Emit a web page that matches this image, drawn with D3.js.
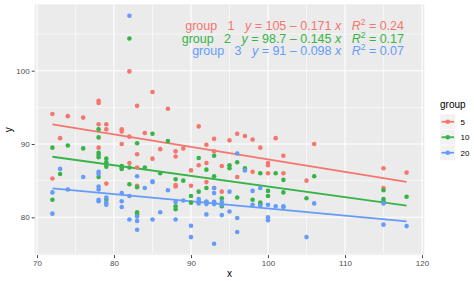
<!DOCTYPE html>
<html><head><meta charset="utf-8">
<script src="https://cdn.jsdelivr.net/npm/d3@7"></script>
<style>
body{margin:0;background:#fff;}
svg{display:block;font-family:"Liberation Sans",Arial,sans-serif;}
text{white-space:pre;}
</style></head>
<body>
<svg id="chart" width="474" height="281"></svg>
<script>
// ---- data ----
const groups = ["5", "10", "20"];
const groupNumbers = ["1", "2", "3"];
const colors = ["#F4766D", "#36B448", "#659BFA"];
const intercepts = [105, 98.7, 91];
const slopes = [-0.171, -0.145, -0.098];
const interceptLabels = ["105", "98.7", "91"];
const slopeLabels = ["0.171", "0.145", "0.098"];
const r2Labels = ["0.24", "0.17", "0.07"];
const xTicks = [70, 80, 90, 100, 110, 120];
const yTicks = [80, 90, 100];
const xMinor = [75, 85, 95, 105, 115];
const yMinor = [75, 85, 95, 105];

// group 5 points [x, y]
const group5 = [
 [72,94.1],[72,85.3],[73,90.8],[74,93.8],[76,93.6],
 [78,95.9],[78,95.6],[78,92.7],[78,89.5],
 [79,92.7],[79,92.0],[79,84.6],
 [81,92.0],[81,91.7],[81,90.0],
 [82,99.9],[82,91.0],[82,87.4],
 [83,95.2],[83,88.6],[83,86.8],[83,84.3],
 [84,91.5],[85,97.1],[85,88.0],[86,89.3],[87,94.8],
 [88,89.0],[88,88.3],[88,84.4],[88,84.2],
 [89,89.4],[90,86.4],[90,84.3],[91,92.4],[91,87.1],
 [92,89.9],[92,87.4],[92,84.8],
 [93,90.7],[93,89.0],[93,84.0],
 [94,87.0],[94,83.5],[95,90.5],[96,91.4],[96,85.5],
 [97,91.1],[98,90.6],[98,86.2],[99,89.5],
 [100,87.4],[100,87.1],[100,86.0],[101,90.8],
 [102,88.4],[102,86.0],[105,85.0],[106,90.0],
 [115,86.7],[115,84.0],[118,86.1]
];
// group 10 points
const group10 = [
 [72,89.5],[72,82.4],[73,85.9],[74,89.8],[76,89.4],
 [78,92.0],[78,90.9],[78,88.8],[78,88.5],[78,88.2],[78,85.5],
 [79,88.0],[79,87.5],[79,87.2],[79,86.9],[79,82.4],
 [81,87.0],[81,86.8],[81,86.6],
 [82,104.4],[82,86.8],[82,84.5],
 [83,90.1],[83,84.1],[83,80.7],[83,80.4],
 [84,86.8],[85,91.4],[86,86.0],[87,90.4],
 [88,85.2],[88,81.5],[88,81.1],[89,85.0],
 [90,82.9],[90,82.0],[91,88.1],[91,83.5],
 [92,86.5],[92,84.0],[92,82.1],
 [93,88.4],[93,85.6],[93,82.0],
 [94,82.6],[94,81.5],[95,87.1],[95,86.7],[96,87.5],[96,82.7],
 [97,86.7],[98,82.4],[99,86.0],[99,82.0],[99,81.8],
 [100,83.6],[100,82.9],[101,86.0],[102,85.1],[102,83.4],
 [105,82.6],[106,85.6],[115,83.7],[115,82.5],[115,82.2],[118,82.8]
];
// group 20 points
const group20 = [
 [72,83.4],[72,80.5],[73,86.6],[74,83.8],[76,85.5],
 [78,86.2],[78,85.9],[78,84.2],[78,83.8],[78,82.4],[78,82.2],
 [79,82.7],[79,82.0],[79,81.7],
 [81,83.3],[81,82.2],[81,81.4],
 [82,107.5],[82,82.9],[82,79.7],
 [83,85.6],[83,80.1],[83,79.5],[83,78.3],
 [84,84.0],[85,84.9],[85,84.8],[85,79.7],[86,80.7],[87,83.7],
 [88,82.1],[88,79.7],[89,82.3],[90,78.85],[90,77.3],
 [91,82.5],[91,82.2],[91,81.9],[92,82.1],[92,81.8],[92,80.4],
 [93,84.0],[93,83.3],[93,82.1],[93,81.8],[93,76.4],
 [94,82.1],[94,81.7],[94,80.3],[95,83.5],[95,80.8],
 [96,88.7],[96,79.9],[96,78.0],[97,86.4],[98,83.6],[98,81.7],
 [99,84.0],[99,81.6],[100,81.7],[100,80.0],[100,79.6],
 [101,81.5],[102,81.5],[102,81.4],[105,77.3],[106,81.9],
 [115,81.9],[115,79.0],[118,78.8]
];
const seriesPoints = [group5, group10, group20];

// ---- layout ----
const svg = d3.select("#chart");
const P = {left: 34.7, right: 424.3, top: 4.3, bottom: 255.1};
const all = seriesPoints.flat();
const xExt = d3.extent(all, d => d[0]);
const yExt = d3.extent(all, d => d[1]);
const xPad = (xExt[1] - xExt[0]) * 0.05, yPad = (yExt[1] - yExt[0]) * 0.05;
const x = d3.scaleLinear().domain([xExt[0] - xPad, xExt[1] + xPad]).range([P.left, P.right]);
const y = d3.scaleLinear().domain([yExt[0] - yPad, yExt[1] + yPad]).range([P.bottom, P.top]);

// panel
svg.append("rect").attr("x", P.left).attr("y", P.top)
  .attr("width", P.right - P.left).attr("height", P.bottom - P.top).attr("fill", "#EBEBEB");

const grid = svg.append("g").attr("stroke", "#fff").attr("fill", "none");
grid.selectAll(".xm").data(xMinor.filter(v => x(v) > P.left && x(v) < P.right)).join("line")
  .attr("x1", d => x(d)).attr("x2", d => x(d)).attr("y1", P.top).attr("y2", P.bottom).attr("stroke-width", 0.55);
grid.selectAll(".ym").data(yMinor.filter(v => y(v) > P.top && y(v) < P.bottom)).join("line")
  .attr("y1", d => y(d)).attr("y2", d => y(d)).attr("x1", P.left).attr("x2", P.right).attr("stroke-width", 0.55);
grid.selectAll(".xM").data(xTicks.filter(v => x(v) >= P.left && x(v) <= P.right)).join("line")
  .attr("x1", d => x(d)).attr("x2", d => x(d)).attr("y1", P.top).attr("y2", P.bottom).attr("stroke-width", 1.1);
grid.selectAll(".yM").data(yTicks).join("line")
  .attr("y1", d => y(d)).attr("y2", d => y(d)).attr("x1", P.left).attr("x2", P.right).attr("stroke-width", 1.1);

// axes
const xAxis = svg.append("g").attr("transform", `translate(0,${P.bottom})`)
  .call(d3.axisBottom(x).tickValues(xTicks).tickSize(3).tickPadding(2));
const yAxis = svg.append("g").attr("transform", `translate(${P.left},0)`)
  .call(d3.axisLeft(y).tickValues(yTicks).tickSize(3).tickPadding(2));
[xAxis, yAxis].forEach(a => {
  a.select(".domain").remove();
  a.selectAll(".tick line").attr("stroke", "#333").attr("stroke-width", 0.9);
  a.selectAll(".tick text").attr("fill", "#4D4D4D").attr("font-size", 8)
    .attr("font-family", "Liberation Sans, Arial, sans-serif");
});

svg.append("text").attr("x", (P.left + P.right) / 2).attr("y", 277).attr("text-anchor", "middle")
  .attr("font-size", 10).attr("fill", "#000").text("x");
svg.append("text").attr("transform", `translate(12,${(P.top + P.bottom) / 2}) rotate(-90)`)
  .attr("text-anchor", "middle").attr("font-size", 10).attr("fill", "#000").text("y");

// regression lines
const lineGen = d3.line().x(d => x(d[0])).y(d => y(d[1]));
seriesPoints.forEach((pts, i) => {
  const xs = d3.extent(pts, d => d[0]);
  const seg = xs.map(v => [v, intercepts[i] + slopes[i] * v]);
  svg.append("path").attr("d", lineGen(seg)).attr("stroke", colors[i])
    .attr("stroke-width", 1.8).attr("fill", "none");
});

// points
seriesPoints.forEach((pts, i) => {
  svg.append("g").selectAll("circle").data(pts).join("circle")
    .attr("cx", d => x(d[0])).attr("cy", d => y(d[1])).attr("r", 2.3).attr("fill", colors[i]);
});

// equation labels
const eqY = [30, 42.5, 55];
groups.forEach((g, i) => {
  const t = svg.append("text").attr("x", 404).attr("y", eqY[i]).attr("text-anchor", "end")
    .attr("font-size", 12.5).attr("fill", colors[i]);
  t.append("tspan").text("group   " + groupNumbers[i] + "   ");
  t.append("tspan").attr("font-style", "italic").text("y");
  t.append("tspan").text(" = " + interceptLabels[i] + " – " + slopeLabels[i] + " ");
  t.append("tspan").attr("font-style", "italic").text("x");
  t.append("tspan").text("   ");
  t.append("tspan").attr("font-style", "italic").text("R");
  t.append("tspan").attr("font-size", 8.5).attr("dy", -5).text("2");
  t.append("tspan").attr("dy", 5).text(" = " + r2Labels[i]);
});

// legend
const L = {x: 440, y: 114, size: 15.5};
svg.append("text").attr("x", L.x).attr("y", 108).attr("font-size", 10).attr("fill", "#000").text("group");
groups.forEach((g, i) => {
  const ky = L.y + i * L.size;
  svg.append("rect").attr("x", L.x).attr("y", ky).attr("width", L.size).attr("height", L.size)
    .attr("fill", "#F2F2F2").attr("stroke", "#fff").attr("stroke-width", 0.5);
  svg.append("line").attr("x1", L.x + 1.5).attr("x2", L.x + L.size - 1.5)
    .attr("y1", ky + L.size / 2).attr("y2", ky + L.size / 2)
    .attr("stroke", colors[i]).attr("stroke-width", 1.8);
  svg.append("circle").attr("cx", L.x + L.size / 2).attr("cy", ky + L.size / 2).attr("r", 2.3).attr("fill", colors[i]);
  svg.append("text").attr("x", L.x + L.size + 5).attr("y", ky + L.size / 2 + 3)
    .attr("font-size", 8).attr("fill", "#000").text(g);
});
</script>
</body></html>
